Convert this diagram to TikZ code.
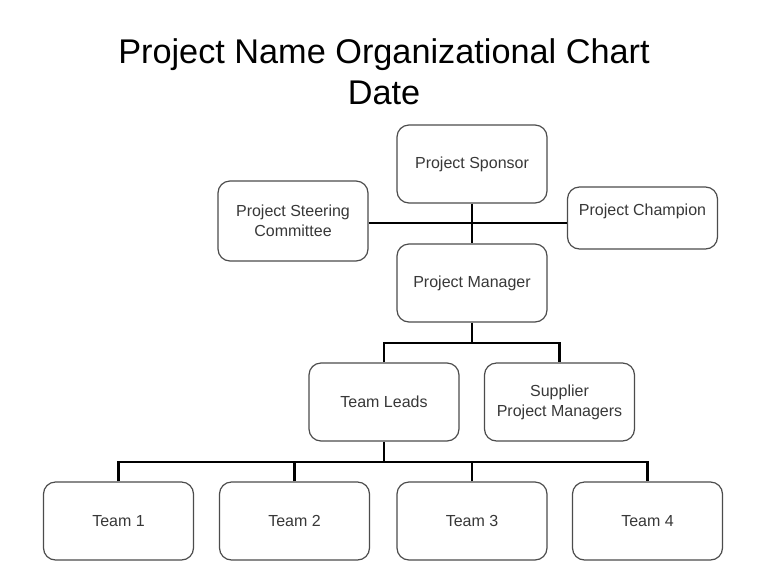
\documentclass[tikz,border=0pt]{standalone}
\usepackage{fontspec}
\setmainfont{Liberation Sans}
\begin{document}
\begin{tikzpicture}[x=0.75pt,y=-0.75pt,
  box/.style={draw=black!70, line width=0.9pt, rounded corners=9pt, fill=white,
    minimum width=112.5pt, minimum height=58.5pt, inner sep=0pt,
    align=center, text=black!78, font=\fontsize{12}{15}\selectfont},
  conn/.style={draw=black, line width=2.1pt},
  titlefont/.style={font=\fontsize{25.7}{30}\selectfont, text=black, inner sep=0pt}]
\path[use as bounding box, fill=white] (0,0) rectangle (768,576);
% title
\node[titlefont, anchor=base] (t1) at (384,63) {Project Name Organizational Chart};
\node[titlefont, anchor=base] (t2) at (384,104) {Date};
% boxes
\node[box] (sponsor) at (472,164) {Project Sponsor};
\node[box, minimum height=60pt] (steer) at (293,221) {Project Steering\\Committee};
\node[box, minimum height=46.5pt, text height=9pt, text depth=13.5pt] (champ) at (642.5,218) {Project Champion};
\node[box] (pm) at (472,283) {Project Manager};
\node[box] (leads) at (384,402) {Team Leads};
\node[box] (supp) at (559.5,402) {Supplier\\Project Managers};
\node[box] (t1b) at (118.5,521) {Team 1};
\node[box] (t2b) at (294.5,521) {Team 2};
\node[box] (t3b) at (472,521) {Team 3};
\node[box] (t4b) at (647.5,521) {Team 4};
% connectors
\coordinate (hub) at (472,223);
\draw[conn] (sponsor.south) -- (pm.north);
\draw[conn] (steer.east |- hub) -- (champ.west |- hub);
\coordinate (j1) at (472,343);
\draw[conn] (pm.south) -- (j1);
\draw[conn] (leads.north) |- (j1) -| (supp.north);
\coordinate (j2) at (384,462);
\draw[conn] (leads.south) -- (j2);
\draw[conn] (t1b.north) |- (j2) -| (t4b.north);
\draw[conn] (t2b.north) -- (t2b.north |- j2);
\draw[conn] (t3b.north) -- (t3b.north |- j2);
\end{tikzpicture}
\end{document}
